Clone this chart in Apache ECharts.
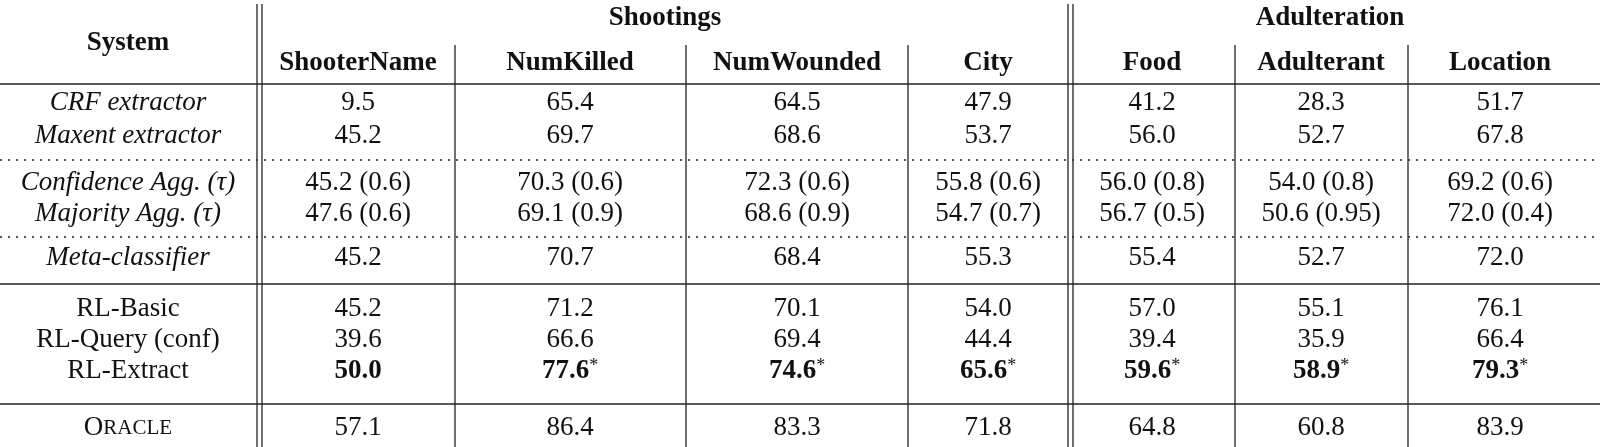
<!DOCTYPE html><html><head><meta charset="utf-8"><script src="https://cdn.jsdelivr.net/npm/echarts@6/dist/echarts.min.js"></script>
<style>html,body{margin:0;background:#fff}#c{width:1620px;height:447px}</style></head><body><div id="c"></div><script>
const groups=[{name:'Shootings',from:1,to:4},{name:'Adulteration',from:5,to:7}];
const columns=['System','ShooterName','NumKilled','NumWounded','City','Food','Adulterant','Location'];
const systems=['CRF extractor','Maxent extractor','Confidence Agg. (τ)','Majority Agg. (τ)','Meta-classifier','RL-Basic','RL-Query (conf)','RL-Extract','ORACLE'];
const italicRows=[0,1,2,3,4];
const values=[
['9.5','65.4','64.5','47.9','41.2','28.3','51.7'],
['45.2','69.7','68.6','53.7','56.0','52.7','67.8'],
['45.2 (0.6)','70.3 (0.6)','72.3 (0.6)','55.8 (0.6)','56.0 (0.8)','54.0 (0.8)','69.2 (0.6)'],
['47.6 (0.6)','69.1 (0.9)','68.6 (0.9)','54.7 (0.7)','56.7 (0.5)','50.6 (0.95)','72.0 (0.4)'],
['45.2','70.7','68.4','55.3','55.4','52.7','72.0'],
['45.2','71.2','70.1','54.0','57.0','55.1','76.1'],
['39.6','66.6','69.4','44.4','39.4','35.9','66.4'],
['50.0','77.6*','74.6*','65.6*','59.6*','58.9*','79.3*'],
['57.1','86.4','83.3','71.8','64.8','60.8','83.9']];
const boldRow=7;

const colX=[128,358,570,797,988,1152,1321,1500];
const rowY=[103,136,183,214,258,309,340,371,428];
const F='"Liberation Serif","DejaVu Serif",serif';
const FS=27;
const g=[];
function txt(x,y,text,rich,style){g.push({type:'text',x:x,y:y,style:Object.assign({text:text,font:FS+'px '+F,fill:'#111',align:'center',verticalAlign:'middle',rich:rich},style||{})});}
function line(x1,y1,x2,y2,dash){g.push({type:'line',shape:{x1,y1,x2,y2},style:{stroke:'#222',lineWidth:1.3,lineDash:dash||null}});}
const BF='bold '+FS+'px '+F;
txt(colX[0],43,columns[0],null,{font:BF});
for(let i=1;i<columns.length;i++)txt(colX[i],63,columns[i],null,{font:BF});
txt(665,18,groups[0].name,null,{font:BF});
txt(1330,18,groups[1].name,null,{font:BF});
const rich={b:{font:BF,fill:'#111'},s:{font:'18px '+F,fill:'#111',padding:[0,0,10,0]},big:{font:FS+'px '+F,fill:'#111'},sm:{font:'21px '+F,fill:'#111'}};
systems.forEach((s,r)=>{
  if(s==='ORACLE'){txt(colX[0],rowY[r],'{big|O}{sm|RACLE}',rich);}
  else txt(colX[0],rowY[r],s,null,{font:(italicRows.includes(r)?'italic ':'')+FS+'px '+F});
  values[r].forEach((v,c)=>{
    if(r===boldRow){const star=v.endsWith('*');const n=star?v.slice(0,-1):v;txt(colX[c+1],rowY[r],'{b|'+n+'}'+(star?'{s|*}':''),rich);}
    else txt(colX[c+1],rowY[r],v);
  });
});
const W=1600;
line(0,84,W,84);line(0,284,W,284);line(0,404,W,404);
line(0,160,W,160,[2,6]);line(0,237,W,237,[2,6]);
[257,262,1068,1073].forEach(x=>line(x,4,x,447));
[455,686,908,1235,1408].forEach(x=>line(x,45,x,447));
const chart=echarts.init(document.getElementById('c'));
chart.setOption({animation:false,graphic:{elements:g}});
</script></body></html>
